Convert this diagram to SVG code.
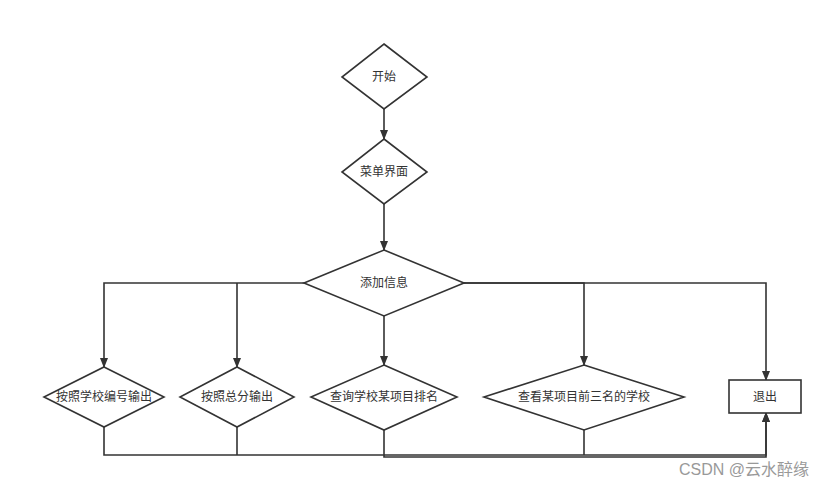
<svg xmlns="http://www.w3.org/2000/svg" width="831" height="487" viewBox="0 0 831 487">
<style>
.s{fill:#fff;stroke:#333;stroke-width:1.6}
.c{fill:none;stroke:#333;stroke-width:1.6}
.t{font-family:"Liberation Sans","Noto Sans CJK SC",sans-serif;font-size:12px;fill:#333;text-anchor:middle;dominant-baseline:central}
.w{font-family:"Liberation Sans","Noto Sans CJK SC",sans-serif;font-size:16px;fill:#999}
</style>
<defs>
<marker id="a" viewBox="0 0 10 10" refX="9" refY="5" markerWidth="10" markerHeight="10" markerUnits="userSpaceOnUse" orient="auto">
<path d="M0,1 L10,5 L0,9 Z" fill="#333"/>
</marker>
</defs>
<rect width="831" height="487" fill="#fff"/>
<g id="connectors">
<path class="c" d="M384,109 V139" marker-end="url(#a)"/>
<path class="c" d="M384,204 V250" marker-end="url(#a)"/>
<path class="c" d="M304,283 H104 V367" marker-end="url(#a)"/>
<path class="c" d="M237,283 V367" marker-end="url(#a)"/>
<path class="c" d="M384,316 V365" marker-end="url(#a)"/>
<path class="c" d="M464,283 H584 V365" marker-end="url(#a)"/>
<path class="c" d="M464,283 H766 V380" marker-end="url(#a)"/>
<path class="c" d="M104,427 V455 H766 V413" marker-end="url(#a)"/>
<path class="c" d="M237,427 V455"/>
<path class="c" d="M384,430 V457 H766 V413" marker-end="url(#a)"/>
<path class="c" d="M584,430 V455"/>
</g>
<g id="start">
<polygon class="s" points="384,44 427,77 384,109 342,77"/>
<text class="t" x="384" y="77">开始</text>
</g>
<g id="menu">
<polygon class="s" points="384,139 427,172 384,204 342,172"/>
<text class="t" x="384" y="172">菜单界面</text>
</g>
<g id="add">
<polygon class="s" points="384,250 464,283 384,316 304,283"/>
<text class="t" x="384" y="283">添加信息</text>
</g>
<g id="bySchool">
<polygon class="s" points="104,367 164,397 104,427 44,397"/>
<text class="t" x="104" y="397">按照学校编号输出</text>
</g>
<g id="byTotal">
<polygon class="s" points="237,367 294,397 237,427 180,397"/>
<text class="t" x="237" y="397">按照总分输出</text>
</g>
<g id="query">
<polygon class="s" points="384,365 457,397 384,430 311,397"/>
<text class="t" x="384" y="397">查询学校某项目排名</text>
</g>
<g id="top3">
<polygon class="s" points="584,365 684,397 584,430 484,397"/>
<text class="t" x="584" y="397">查看某项目前三名的学校</text>
</g>
<g id="exit">
<rect class="s" x="729" y="380" width="72" height="33"/>
<text class="t" x="765" y="397">退出</text>
</g>
<text class="w" x="679" y="475">CSDN @云水醉缘</text>
</svg>
